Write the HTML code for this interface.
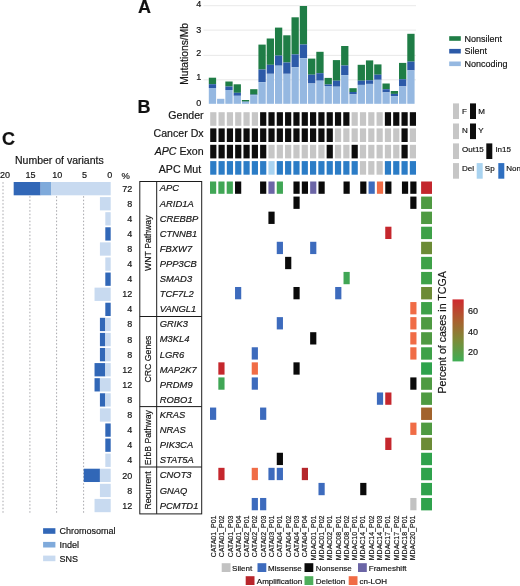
<!DOCTYPE html>
<html lang="en"><head><meta charset="utf-8"><title>Figure</title>
<style>html,body{margin:0;padding:0;background:#fff}body{width:520px;height:586px;overflow:hidden}svg{display:block}text{font-family:"Liberation Sans",sans-serif}</style>
</head><body>
<svg width="520" height="586" viewBox="0 0 520 586">
<rect x="0" y="0" width="520" height="586" fill="#ffffff"/>
<defs><linearGradient id="cb" x1="0" y1="0" x2="0" y2="1"><stop offset="0" stop-color="#cf2a2f"/><stop offset="0.35" stop-color="#a9612f"/><stop offset="0.65" stop-color="#7e8a38"/><stop offset="1" stop-color="#3fae55"/></linearGradient></defs>
<line x1="3.00" y1="182.20" x2="3.00" y2="513.30" stroke="#8f8f95" stroke-width="0.8" stroke-dasharray="1.5 2"/>
<line x1="29.90" y1="182.20" x2="29.90" y2="513.30" stroke="#8f8f95" stroke-width="0.8" stroke-dasharray="1.5 2"/>
<line x1="56.60" y1="182.20" x2="56.60" y2="513.30" stroke="#8f8f95" stroke-width="0.8" stroke-dasharray="1.5 2"/>
<line x1="83.60" y1="182.20" x2="83.60" y2="513.30" stroke="#8f8f95" stroke-width="0.8" stroke-dasharray="1.5 2"/>
<line x1="203.50" y1="5.70" x2="416.00" y2="5.70" stroke="#e2e2e2" stroke-width="0.8" />
<line x1="203.50" y1="30.10" x2="416.00" y2="30.10" stroke="#e2e2e2" stroke-width="0.8" />
<line x1="203.50" y1="55.40" x2="416.00" y2="55.40" stroke="#e2e2e2" stroke-width="0.8" />
<line x1="203.50" y1="79.80" x2="416.00" y2="79.80" stroke="#e2e2e2" stroke-width="0.8" />
<rect x="208.80" y="77.70" width="7.30" height="6.50" fill="#1f7d46" />
<rect x="208.80" y="84.20" width="7.30" height="3.80" fill="#2c5aa8" />
<rect x="208.80" y="88.00" width="7.30" height="15.80" fill="#95b8e1" />
<rect x="217.07" y="98.80" width="7.30" height="5.00" fill="#95b8e1" />
<rect x="225.34" y="81.50" width="7.30" height="5.00" fill="#1f7d46" />
<rect x="225.34" y="86.50" width="7.30" height="3.50" fill="#2c5aa8" />
<rect x="225.34" y="90.00" width="7.30" height="13.80" fill="#95b8e1" />
<rect x="233.61" y="84.30" width="7.30" height="8.50" fill="#1f7d46" />
<rect x="233.61" y="92.80" width="7.30" height="3.00" fill="#2c5aa8" />
<rect x="233.61" y="95.80" width="7.30" height="8.00" fill="#95b8e1" />
<rect x="241.88" y="100.00" width="7.30" height="1.60" fill="#1f7d46" />
<rect x="241.88" y="101.60" width="7.30" height="0.20" fill="#2c5aa8" />
<rect x="241.88" y="101.80" width="7.30" height="2.00" fill="#95b8e1" />
<rect x="250.15" y="89.20" width="7.30" height="5.40" fill="#1f7d46" />
<rect x="250.15" y="94.60" width="7.30" height="0.60" fill="#2c5aa8" />
<rect x="250.15" y="95.20" width="7.30" height="8.60" fill="#95b8e1" />
<rect x="258.42" y="44.60" width="7.30" height="24.90" fill="#1f7d46" />
<rect x="258.42" y="69.50" width="7.30" height="12.70" fill="#2c5aa8" />
<rect x="258.42" y="82.20" width="7.30" height="21.60" fill="#95b8e1" />
<rect x="266.69" y="38.50" width="7.30" height="26.30" fill="#1f7d46" />
<rect x="266.69" y="64.80" width="7.30" height="9.00" fill="#2c5aa8" />
<rect x="266.69" y="73.80" width="7.30" height="30.00" fill="#95b8e1" />
<rect x="274.96" y="27.60" width="7.30" height="28.00" fill="#1f7d46" />
<rect x="274.96" y="55.60" width="7.30" height="10.10" fill="#2c5aa8" />
<rect x="274.96" y="65.70" width="7.30" height="38.10" fill="#95b8e1" />
<rect x="283.23" y="35.30" width="7.30" height="27.20" fill="#1f7d46" />
<rect x="283.23" y="62.50" width="7.30" height="11.30" fill="#2c5aa8" />
<rect x="283.23" y="73.80" width="7.30" height="30.00" fill="#95b8e1" />
<rect x="291.50" y="17.30" width="7.30" height="37.10" fill="#1f7d46" />
<rect x="291.50" y="54.40" width="7.30" height="12.80" fill="#2c5aa8" />
<rect x="291.50" y="67.20" width="7.30" height="36.60" fill="#95b8e1" />
<rect x="299.77" y="6.00" width="7.30" height="38.50" fill="#1f7d46" />
<rect x="299.77" y="44.50" width="7.30" height="13.70" fill="#2c5aa8" />
<rect x="299.77" y="58.20" width="7.30" height="45.60" fill="#95b8e1" />
<rect x="308.04" y="58.60" width="7.30" height="16.10" fill="#1f7d46" />
<rect x="308.04" y="74.70" width="7.30" height="8.80" fill="#2c5aa8" />
<rect x="308.04" y="83.50" width="7.30" height="20.30" fill="#95b8e1" />
<rect x="316.31" y="51.80" width="7.30" height="21.40" fill="#1f7d46" />
<rect x="316.31" y="73.20" width="7.30" height="7.50" fill="#2c5aa8" />
<rect x="316.31" y="80.70" width="7.30" height="23.10" fill="#95b8e1" />
<rect x="324.58" y="77.90" width="7.30" height="6.60" fill="#1f7d46" />
<rect x="324.58" y="84.50" width="7.30" height="1.50" fill="#2c5aa8" />
<rect x="324.58" y="86.00" width="7.30" height="17.80" fill="#95b8e1" />
<rect x="332.85" y="60.10" width="7.30" height="20.60" fill="#1f7d46" />
<rect x="332.85" y="80.70" width="7.30" height="6.00" fill="#2c5aa8" />
<rect x="332.85" y="86.70" width="7.30" height="17.10" fill="#95b8e1" />
<rect x="341.12" y="46.00" width="7.30" height="19.50" fill="#1f7d46" />
<rect x="341.12" y="65.50" width="7.30" height="9.60" fill="#2c5aa8" />
<rect x="341.12" y="75.10" width="7.30" height="28.70" fill="#95b8e1" />
<rect x="349.39" y="88.20" width="7.30" height="3.80" fill="#1f7d46" />
<rect x="349.39" y="92.00" width="7.30" height="2.40" fill="#2c5aa8" />
<rect x="349.39" y="94.40" width="7.30" height="9.40" fill="#95b8e1" />
<rect x="357.66" y="64.80" width="7.30" height="15.90" fill="#1f7d46" />
<rect x="357.66" y="80.70" width="7.30" height="4.20" fill="#2c5aa8" />
<rect x="357.66" y="84.90" width="7.30" height="18.90" fill="#95b8e1" />
<rect x="365.93" y="60.40" width="7.30" height="19.90" fill="#1f7d46" />
<rect x="365.93" y="80.30" width="7.30" height="3.60" fill="#2c5aa8" />
<rect x="365.93" y="83.90" width="7.30" height="19.90" fill="#95b8e1" />
<rect x="374.20" y="64.40" width="7.30" height="10.30" fill="#1f7d46" />
<rect x="374.20" y="74.70" width="7.30" height="5.10" fill="#2c5aa8" />
<rect x="374.20" y="79.80" width="7.30" height="24.00" fill="#95b8e1" />
<rect x="382.47" y="83.50" width="7.30" height="5.70" fill="#1f7d46" />
<rect x="382.47" y="89.20" width="7.30" height="3.20" fill="#2c5aa8" />
<rect x="382.47" y="92.40" width="7.30" height="11.40" fill="#95b8e1" />
<rect x="390.74" y="91.00" width="7.30" height="2.90" fill="#1f7d46" />
<rect x="390.74" y="93.90" width="7.30" height="2.20" fill="#2c5aa8" />
<rect x="390.74" y="96.10" width="7.30" height="7.70" fill="#95b8e1" />
<rect x="399.01" y="62.90" width="7.30" height="16.30" fill="#1f7d46" />
<rect x="399.01" y="79.20" width="7.30" height="7.20" fill="#2c5aa8" />
<rect x="399.01" y="86.40" width="7.30" height="17.40" fill="#95b8e1" />
<rect x="407.28" y="33.80" width="7.30" height="27.80" fill="#1f7d46" />
<rect x="407.28" y="61.60" width="7.30" height="8.80" fill="#2c5aa8" />
<rect x="407.28" y="70.40" width="7.30" height="33.40" fill="#95b8e1" />
<text x="198.80" y="7.10" font-size="9" text-anchor="middle" font-weight="normal" font-style="normal" fill="#141414" stroke="#141414" stroke-width="0.18">4</text>
<text x="198.80" y="32.60" font-size="9" text-anchor="middle" font-weight="normal" font-style="normal" fill="#141414" stroke="#141414" stroke-width="0.18">3</text>
<text x="198.80" y="56.00" font-size="9" text-anchor="middle" font-weight="normal" font-style="normal" fill="#141414" stroke="#141414" stroke-width="0.18">2</text>
<text x="198.80" y="80.40" font-size="9" text-anchor="middle" font-weight="normal" font-style="normal" fill="#141414" stroke="#141414" stroke-width="0.18">1</text>
<text x="198.80" y="105.70" font-size="9" text-anchor="middle" font-weight="normal" font-style="normal" fill="#141414" stroke="#141414" stroke-width="0.18">0</text>
<text x="188.00" y="53.90" font-size="10.3" text-anchor="middle" font-weight="normal" font-style="normal" fill="#141414" transform="rotate(-90 188.00 53.90)" stroke="#141414" stroke-width="0.18">Mutations/Mb</text>
<text x="138.00" y="12.80" font-size="18" text-anchor="start" font-weight="bold" font-style="normal" fill="#111" stroke="#141414" stroke-width="0.18">A</text>
<text x="137.50" y="113.10" font-size="18" text-anchor="start" font-weight="bold" font-style="normal" fill="#111" stroke="#141414" stroke-width="0.18">B</text>
<text x="2.10" y="145.40" font-size="18" text-anchor="start" font-weight="bold" font-style="normal" fill="#111" stroke="#141414" stroke-width="0.18">C</text>
<rect x="449.20" y="36.20" width="11.60" height="4.60" fill="#1f7d46" />
<text x="464.60" y="41.70" font-size="9" text-anchor="start" font-weight="normal" font-style="normal" fill="#141414" stroke="#141414" stroke-width="0.18">Nonsilent</text>
<rect x="449.20" y="48.90" width="11.60" height="4.60" fill="#2c5aa8" />
<text x="464.60" y="54.40" font-size="9" text-anchor="start" font-weight="normal" font-style="normal" fill="#141414" stroke="#141414" stroke-width="0.18">Silent</text>
<rect x="449.20" y="61.50" width="11.60" height="4.60" fill="#95b8e1" />
<text x="464.60" y="67.00" font-size="9" text-anchor="start" font-weight="normal" font-style="normal" fill="#141414" stroke="#141414" stroke-width="0.18">Noncoding</text>
<rect x="210.20" y="112.20" width="6.20" height="13.60" fill="#c6c6c6" />
<rect x="218.52" y="112.20" width="6.20" height="13.60" fill="#c6c6c6" />
<rect x="226.83" y="112.20" width="6.20" height="13.60" fill="#c6c6c6" />
<rect x="235.15" y="112.20" width="6.20" height="13.60" fill="#c6c6c6" />
<rect x="243.47" y="112.20" width="6.20" height="13.60" fill="#c6c6c6" />
<rect x="251.78" y="112.20" width="6.20" height="13.60" fill="#c6c6c6" />
<rect x="260.10" y="112.20" width="6.20" height="13.60" fill="#0d0d0d" />
<rect x="268.42" y="112.20" width="6.20" height="13.60" fill="#0d0d0d" />
<rect x="276.74" y="112.20" width="6.20" height="13.60" fill="#0d0d0d" />
<rect x="285.05" y="112.20" width="6.20" height="13.60" fill="#0d0d0d" />
<rect x="293.37" y="112.20" width="6.20" height="13.60" fill="#0d0d0d" />
<rect x="301.69" y="112.20" width="6.20" height="13.60" fill="#0d0d0d" />
<rect x="310.00" y="112.20" width="6.20" height="13.60" fill="#0d0d0d" />
<rect x="318.32" y="112.20" width="6.20" height="13.60" fill="#0d0d0d" />
<rect x="326.64" y="112.20" width="6.20" height="13.60" fill="#0d0d0d" />
<rect x="334.95" y="112.20" width="6.20" height="13.60" fill="#0d0d0d" />
<rect x="343.27" y="112.20" width="6.20" height="13.60" fill="#0d0d0d" />
<rect x="351.59" y="112.20" width="6.20" height="13.60" fill="#c6c6c6" />
<rect x="359.91" y="112.20" width="6.20" height="13.60" fill="#c6c6c6" />
<rect x="368.22" y="112.20" width="6.20" height="13.60" fill="#c6c6c6" />
<rect x="376.54" y="112.20" width="6.20" height="13.60" fill="#c6c6c6" />
<rect x="384.86" y="112.20" width="6.20" height="13.60" fill="#0d0d0d" />
<rect x="393.17" y="112.20" width="6.20" height="13.60" fill="#0d0d0d" />
<rect x="401.49" y="112.20" width="6.20" height="13.60" fill="#0d0d0d" />
<rect x="409.81" y="112.20" width="6.20" height="13.60" fill="#0d0d0d" />
<rect x="210.20" y="128.40" width="6.20" height="13.60" fill="#0d0d0d" />
<rect x="218.52" y="128.40" width="6.20" height="13.60" fill="#0d0d0d" />
<rect x="226.83" y="128.40" width="6.20" height="13.60" fill="#0d0d0d" />
<rect x="235.15" y="128.40" width="6.20" height="13.60" fill="#0d0d0d" />
<rect x="243.47" y="128.40" width="6.20" height="13.60" fill="#0d0d0d" />
<rect x="251.78" y="128.40" width="6.20" height="13.60" fill="#0d0d0d" />
<rect x="260.10" y="128.40" width="6.20" height="13.60" fill="#0d0d0d" />
<rect x="268.42" y="128.40" width="6.20" height="13.60" fill="#0d0d0d" />
<rect x="276.74" y="128.40" width="6.20" height="13.60" fill="#0d0d0d" />
<rect x="285.05" y="128.40" width="6.20" height="13.60" fill="#0d0d0d" />
<rect x="293.37" y="128.40" width="6.20" height="13.60" fill="#0d0d0d" />
<rect x="301.69" y="128.40" width="6.20" height="13.60" fill="#0d0d0d" />
<rect x="310.00" y="128.40" width="6.20" height="13.60" fill="#0d0d0d" />
<rect x="318.32" y="128.40" width="6.20" height="13.60" fill="#0d0d0d" />
<rect x="326.64" y="128.40" width="6.20" height="13.60" fill="#0d0d0d" />
<rect x="334.95" y="128.40" width="6.20" height="13.60" fill="#c6c6c6" />
<rect x="343.27" y="128.40" width="6.20" height="13.60" fill="#c6c6c6" />
<rect x="351.59" y="128.40" width="6.20" height="13.60" fill="#c6c6c6" />
<rect x="359.91" y="128.40" width="6.20" height="13.60" fill="#c6c6c6" />
<rect x="368.22" y="128.40" width="6.20" height="13.60" fill="#c6c6c6" />
<rect x="376.54" y="128.40" width="6.20" height="13.60" fill="#c6c6c6" />
<rect x="384.86" y="128.40" width="6.20" height="13.60" fill="#c6c6c6" />
<rect x="393.17" y="128.40" width="6.20" height="13.60" fill="#c6c6c6" />
<rect x="401.49" y="128.40" width="6.20" height="13.60" fill="#0d0d0d" />
<rect x="409.81" y="128.40" width="6.20" height="13.60" fill="#c6c6c6" />
<rect x="210.20" y="144.80" width="6.20" height="13.60" fill="#0d0d0d" />
<rect x="218.52" y="144.80" width="6.20" height="13.60" fill="#0d0d0d" />
<rect x="226.83" y="144.80" width="6.20" height="13.60" fill="#0d0d0d" />
<rect x="235.15" y="144.80" width="6.20" height="13.60" fill="#0d0d0d" />
<rect x="243.47" y="144.80" width="6.20" height="13.60" fill="#0d0d0d" />
<rect x="251.78" y="144.80" width="6.20" height="13.60" fill="#0d0d0d" />
<rect x="260.10" y="144.80" width="6.20" height="13.60" fill="#0d0d0d" />
<rect x="268.42" y="144.80" width="6.20" height="13.60" fill="#c6c6c6" />
<rect x="276.74" y="144.80" width="6.20" height="13.60" fill="#c6c6c6" />
<rect x="285.05" y="144.80" width="6.20" height="13.60" fill="#c6c6c6" />
<rect x="293.37" y="144.80" width="6.20" height="13.60" fill="#c6c6c6" />
<rect x="301.69" y="144.80" width="6.20" height="13.60" fill="#c6c6c6" />
<rect x="310.00" y="144.80" width="6.20" height="13.60" fill="#c6c6c6" />
<rect x="318.32" y="144.80" width="6.20" height="13.60" fill="#c6c6c6" />
<rect x="326.64" y="144.80" width="6.20" height="13.60" fill="#0d0d0d" />
<rect x="334.95" y="144.80" width="6.20" height="13.60" fill="#c6c6c6" />
<rect x="343.27" y="144.80" width="6.20" height="13.60" fill="#c6c6c6" />
<rect x="351.59" y="144.80" width="6.20" height="13.60" fill="#0d0d0d" />
<rect x="359.91" y="144.80" width="6.20" height="13.60" fill="#c6c6c6" />
<rect x="368.22" y="144.80" width="6.20" height="13.60" fill="#c6c6c6" />
<rect x="376.54" y="144.80" width="6.20" height="13.60" fill="#c6c6c6" />
<rect x="384.86" y="144.80" width="6.20" height="13.60" fill="#c6c6c6" />
<rect x="393.17" y="144.80" width="6.20" height="13.60" fill="#c6c6c6" />
<rect x="401.49" y="144.80" width="6.20" height="13.60" fill="#0d0d0d" />
<rect x="409.81" y="144.80" width="6.20" height="13.60" fill="#c6c6c6" />
<rect x="210.20" y="161.10" width="6.20" height="13.60" fill="#2b7cc6" />
<rect x="218.52" y="161.10" width="6.20" height="13.60" fill="#2b7cc6" />
<rect x="226.83" y="161.10" width="6.20" height="13.60" fill="#2b7cc6" />
<rect x="235.15" y="161.10" width="6.20" height="13.60" fill="#2b7cc6" />
<rect x="243.47" y="161.10" width="6.20" height="13.60" fill="#2b7cc6" />
<rect x="251.78" y="161.10" width="6.20" height="13.60" fill="#2b7cc6" />
<rect x="260.10" y="161.10" width="6.20" height="13.60" fill="#2b7cc6" />
<rect x="268.42" y="161.10" width="6.20" height="13.60" fill="#a9d3f0" />
<rect x="276.74" y="161.10" width="6.20" height="13.60" fill="#2b7cc6" />
<rect x="285.05" y="161.10" width="6.20" height="13.60" fill="#2b7cc6" />
<rect x="293.37" y="161.10" width="6.20" height="13.60" fill="#2b7cc6" />
<rect x="301.69" y="161.10" width="6.20" height="13.60" fill="#2b7cc6" />
<rect x="310.00" y="161.10" width="6.20" height="13.60" fill="#2b7cc6" />
<rect x="318.32" y="161.10" width="6.20" height="13.60" fill="#2b7cc6" />
<rect x="326.64" y="161.10" width="6.20" height="13.60" fill="#2b7cc6" />
<rect x="334.95" y="161.10" width="6.20" height="13.60" fill="#2b7cc6" />
<rect x="343.27" y="161.10" width="6.20" height="13.60" fill="#2b7cc6" />
<rect x="351.59" y="161.10" width="6.20" height="13.60" fill="#2b7cc6" />
<rect x="359.91" y="161.10" width="6.20" height="13.60" fill="#c6c6c6" />
<rect x="368.22" y="161.10" width="6.20" height="13.60" fill="#c6c6c6" />
<rect x="376.54" y="161.10" width="6.20" height="13.60" fill="#c6c6c6" />
<rect x="384.86" y="161.10" width="6.20" height="13.60" fill="#2b7cc6" />
<rect x="393.17" y="161.10" width="6.20" height="13.60" fill="#2b7cc6" />
<rect x="401.49" y="161.10" width="6.20" height="13.60" fill="#2b7cc6" />
<rect x="409.81" y="161.10" width="6.20" height="13.60" fill="#2b7cc6" />
<text x="203.60" y="118.60" font-size="10.6" text-anchor="end" font-weight="normal" font-style="normal" fill="#141414" stroke="#141414" stroke-width="0.18">Gender</text>
<text x="203.60" y="136.70" font-size="10.6" text-anchor="end" font-weight="normal" font-style="normal" fill="#141414" stroke="#141414" stroke-width="0.18">Cancer Dx</text>
<text x="203.6" y="155.0" font-size="10.6" text-anchor="end" fill="#141414" stroke="#141414" stroke-width="0.18"><tspan font-style="italic">APC</tspan> Exon</text>
<text x="201.20" y="173.40" font-size="10.6" text-anchor="end" font-weight="normal" font-style="normal" fill="#141414" stroke="#141414" stroke-width="0.18">APC Mut</text>
<rect x="453.00" y="103.40" width="6.00" height="15.60" fill="#c6c6c6" />
<text x="462.00" y="113.60" font-size="8" text-anchor="start" font-weight="normal" font-style="normal" fill="#141414" stroke="#141414" stroke-width="0.18">F</text>
<rect x="470.00" y="103.40" width="6.00" height="15.60" fill="#0d0d0d" />
<text x="478.30" y="113.60" font-size="8" text-anchor="start" font-weight="normal" font-style="normal" fill="#141414" stroke="#141414" stroke-width="0.18">M</text>
<rect x="453.00" y="123.50" width="6.00" height="15.60" fill="#c6c6c6" />
<text x="462.00" y="133.40" font-size="8" text-anchor="start" font-weight="normal" font-style="normal" fill="#141414" stroke="#141414" stroke-width="0.18">N</text>
<rect x="470.00" y="123.50" width="6.00" height="15.60" fill="#0d0d0d" />
<text x="478.30" y="133.40" font-size="8" text-anchor="start" font-weight="normal" font-style="normal" fill="#141414" stroke="#141414" stroke-width="0.18">Y</text>
<rect x="453.00" y="143.40" width="6.00" height="15.60" fill="#c6c6c6" />
<text x="462.00" y="152.00" font-size="8" text-anchor="start" font-weight="normal" font-style="normal" fill="#141414" stroke="#141414" stroke-width="0.18">Out15</text>
<rect x="486.30" y="143.40" width="6.00" height="15.60" fill="#0d0d0d" />
<text x="495.40" y="152.00" font-size="8" text-anchor="start" font-weight="normal" font-style="normal" fill="#141414" stroke="#141414" stroke-width="0.18">In15</text>
<rect x="453.00" y="163.10" width="6.00" height="15.60" fill="#c6c6c6" />
<text x="462.00" y="171.20" font-size="8" text-anchor="start" font-weight="normal" font-style="normal" fill="#141414" stroke="#141414" stroke-width="0.18">Del</text>
<rect x="476.70" y="163.10" width="6.00" height="15.60" fill="#a9d3f0" />
<text x="484.80" y="171.20" font-size="8" text-anchor="start" font-weight="normal" font-style="normal" fill="#141414" stroke="#141414" stroke-width="0.18">Sp</text>
<rect x="498.30" y="163.10" width="6.00" height="15.60" fill="#2f6fc0" />
<text x="506.20" y="171.20" font-size="8" text-anchor="start" font-weight="normal" font-style="normal" fill="#141414" stroke="#141414" stroke-width="0.18">Non</text>
<rect x="210.00" y="181.50" width="6.20" height="12.30" fill="#40a655" />
<rect x="218.34" y="181.50" width="6.20" height="12.30" fill="#40a655" />
<rect x="226.69" y="181.50" width="6.20" height="12.30" fill="#40a655" />
<rect x="235.03" y="181.50" width="6.20" height="12.30" fill="#0a0a0a" />
<rect x="260.07" y="181.50" width="6.20" height="12.30" fill="#0a0a0a" />
<rect x="268.42" y="181.50" width="6.20" height="12.30" fill="#6b65a6" />
<rect x="276.76" y="181.50" width="6.20" height="12.30" fill="#40a655" />
<rect x="293.45" y="181.50" width="6.20" height="12.30" fill="#0a0a0a" />
<rect x="301.80" y="181.50" width="6.20" height="12.30" fill="#0a0a0a" />
<rect x="310.14" y="181.50" width="6.20" height="12.30" fill="#6b65a6" />
<rect x="318.49" y="181.50" width="6.20" height="12.30" fill="#0a0a0a" />
<rect x="343.52" y="181.50" width="6.20" height="12.30" fill="#0a0a0a" />
<rect x="360.21" y="181.50" width="6.20" height="12.30" fill="#0a0a0a" />
<rect x="368.56" y="181.50" width="6.20" height="12.30" fill="#3d6bbd" />
<rect x="376.90" y="181.50" width="6.20" height="12.30" fill="#f06c46" />
<rect x="385.25" y="181.50" width="6.20" height="12.30" fill="#0a0a0a" />
<rect x="401.94" y="181.50" width="6.20" height="12.30" fill="#0a0a0a" />
<rect x="410.28" y="181.50" width="6.20" height="12.30" fill="#0a0a0a" />
<rect x="293.45" y="196.57" width="6.20" height="12.30" fill="#0a0a0a" />
<rect x="410.28" y="196.57" width="6.20" height="12.30" fill="#0a0a0a" />
<rect x="268.42" y="211.64" width="6.20" height="12.30" fill="#0a0a0a" />
<rect x="385.25" y="226.71" width="6.20" height="12.30" fill="#c5272d" />
<rect x="276.76" y="241.78" width="6.20" height="12.30" fill="#3d6bbd" />
<rect x="310.14" y="241.78" width="6.20" height="12.30" fill="#3d6bbd" />
<rect x="285.11" y="256.85" width="6.20" height="12.30" fill="#0a0a0a" />
<rect x="343.52" y="271.92" width="6.20" height="12.30" fill="#40a655" />
<rect x="235.03" y="286.99" width="6.20" height="12.30" fill="#3d6bbd" />
<rect x="293.45" y="286.99" width="6.20" height="12.30" fill="#0a0a0a" />
<rect x="335.18" y="286.99" width="6.20" height="12.30" fill="#3d6bbd" />
<rect x="410.28" y="302.06" width="6.20" height="12.30" fill="#f06c46" />
<rect x="276.76" y="317.13" width="6.20" height="12.30" fill="#3d6bbd" />
<rect x="410.28" y="317.13" width="6.20" height="12.30" fill="#f06c46" />
<rect x="310.14" y="332.20" width="6.20" height="12.30" fill="#0a0a0a" />
<rect x="410.28" y="332.20" width="6.20" height="12.30" fill="#f06c46" />
<rect x="251.72" y="347.27" width="6.20" height="12.30" fill="#3d6bbd" />
<rect x="410.28" y="347.27" width="6.20" height="12.30" fill="#f06c46" />
<rect x="218.34" y="362.34" width="6.20" height="12.30" fill="#c5272d" />
<rect x="251.72" y="362.34" width="6.20" height="12.30" fill="#f06c46" />
<rect x="293.45" y="362.34" width="6.20" height="12.30" fill="#0a0a0a" />
<rect x="218.34" y="377.41" width="6.20" height="12.30" fill="#40a655" />
<rect x="251.72" y="377.41" width="6.20" height="12.30" fill="#3d6bbd" />
<rect x="410.28" y="377.41" width="6.20" height="12.30" fill="#0a0a0a" />
<rect x="376.90" y="392.48" width="6.20" height="12.30" fill="#3d6bbd" />
<rect x="385.25" y="392.48" width="6.20" height="12.30" fill="#c5272d" />
<rect x="210.00" y="407.55" width="6.20" height="12.30" fill="#3d6bbd" />
<rect x="260.07" y="407.55" width="6.20" height="12.30" fill="#3d6bbd" />
<rect x="410.28" y="422.62" width="6.20" height="12.30" fill="#f06c46" />
<rect x="385.25" y="437.69" width="6.20" height="12.30" fill="#c5272d" />
<rect x="276.76" y="452.76" width="6.20" height="12.30" fill="#0a0a0a" />
<rect x="218.34" y="467.83" width="6.20" height="12.30" fill="#c5272d" />
<rect x="251.72" y="467.83" width="6.20" height="12.30" fill="#f06c46" />
<rect x="268.42" y="467.83" width="6.20" height="12.30" fill="#3d6bbd" />
<rect x="276.76" y="467.83" width="6.20" height="12.30" fill="#3d6bbd" />
<rect x="301.80" y="467.83" width="6.20" height="12.30" fill="#b5262b" />
<rect x="318.49" y="482.90" width="6.20" height="12.30" fill="#3d6bbd" />
<rect x="360.21" y="482.90" width="6.20" height="12.30" fill="#0a0a0a" />
<rect x="251.72" y="497.97" width="6.20" height="12.30" fill="#3d6bbd" />
<rect x="260.07" y="497.97" width="6.20" height="12.30" fill="#3d6bbd" />
<rect x="410.28" y="497.97" width="6.20" height="12.30" fill="#c2c2c2" />
<rect x="421.10" y="181.50" width="10.90" height="12.40" fill="#c3272d" />
<rect x="421.10" y="196.57" width="10.90" height="12.40" fill="#4f9a42" />
<rect x="421.10" y="211.64" width="10.90" height="12.40" fill="#4f9a42" />
<rect x="421.10" y="226.71" width="10.90" height="12.40" fill="#3ea148" />
<rect x="421.10" y="241.78" width="10.90" height="12.40" fill="#6c8b36" />
<rect x="421.10" y="256.85" width="10.90" height="12.40" fill="#3ea148" />
<rect x="421.10" y="271.92" width="10.90" height="12.40" fill="#3ea148" />
<rect x="421.10" y="286.99" width="10.90" height="12.40" fill="#6c8b36" />
<rect x="421.10" y="302.06" width="10.90" height="12.40" fill="#3ea148" />
<rect x="421.10" y="317.13" width="10.90" height="12.40" fill="#4f9a42" />
<rect x="421.10" y="332.20" width="10.90" height="12.40" fill="#4f9a42" />
<rect x="421.10" y="347.27" width="10.90" height="12.40" fill="#3ea148" />
<rect x="421.10" y="362.34" width="10.90" height="12.40" fill="#2fa24c" />
<rect x="421.10" y="377.41" width="10.90" height="12.40" fill="#4f9a42" />
<rect x="421.10" y="392.48" width="10.90" height="12.40" fill="#4f9a42" />
<rect x="421.10" y="407.55" width="10.90" height="12.40" fill="#a2632d" />
<rect x="421.10" y="422.62" width="10.90" height="12.40" fill="#4f9a42" />
<rect x="421.10" y="437.69" width="10.90" height="12.40" fill="#6c8b36" />
<rect x="421.10" y="452.76" width="10.90" height="12.40" fill="#2fa24c" />
<rect x="421.10" y="467.83" width="10.90" height="12.40" fill="#2fa24c" />
<rect x="421.10" y="482.90" width="10.90" height="12.40" fill="#2fa24c" />
<rect x="421.10" y="497.97" width="10.90" height="12.40" fill="#2fa24c" />
<g fill="none" stroke="#1c1c1c" stroke-width="1">
<rect x="139.8" y="181.5" width="61.9" height="332.4"/>
<line x1="156.7" y1="181.5" x2="156.7" y2="513.9"/>
<line x1="139.8" y1="316.5" x2="201.7" y2="316.5"/>
<line x1="139.8" y1="406.6" x2="201.7" y2="406.6"/>
<line x1="139.8" y1="467.0" x2="201.7" y2="467.0"/>
</g>
<text x="159.80" y="191.40" font-size="9.4" text-anchor="start" font-weight="normal" font-style="italic" fill="#141414" stroke="#141414" stroke-width="0.18">APC</text>
<text x="132.20" y="191.50" font-size="9" text-anchor="end" font-weight="normal" font-style="normal" fill="#141414" stroke="#141414" stroke-width="0.18">72</text>
<rect x="13.68" y="182.00" width="26.95" height="13.30" fill="#3167b7" />
<rect x="40.63" y="182.00" width="10.78" height="13.30" fill="#7faadb" />
<rect x="51.41" y="182.00" width="59.29" height="13.30" fill="#c8daf0" />
<text x="159.80" y="206.50" font-size="9.4" text-anchor="start" font-weight="normal" font-style="italic" fill="#141414" stroke="#141414" stroke-width="0.18">ARID1A</text>
<text x="132.20" y="206.60" font-size="9" text-anchor="end" font-weight="normal" font-style="normal" fill="#141414" stroke="#141414" stroke-width="0.18">8</text>
<rect x="99.92" y="197.09" width="10.78" height="13.30" fill="#c8daf0" />
<text x="159.80" y="221.61" font-size="9.4" text-anchor="start" font-weight="normal" font-style="italic" fill="#141414" stroke="#141414" stroke-width="0.18">CREBBP</text>
<text x="132.20" y="221.71" font-size="9" text-anchor="end" font-weight="normal" font-style="normal" fill="#141414" stroke="#141414" stroke-width="0.18">4</text>
<rect x="105.31" y="212.18" width="5.39" height="13.30" fill="#c8daf0" />
<text x="159.80" y="236.72" font-size="9.4" text-anchor="start" font-weight="normal" font-style="italic" fill="#141414" stroke="#141414" stroke-width="0.18">CTNNB1</text>
<text x="132.20" y="236.81" font-size="9" text-anchor="end" font-weight="normal" font-style="normal" fill="#141414" stroke="#141414" stroke-width="0.18">4</text>
<rect x="105.31" y="227.27" width="5.39" height="13.30" fill="#3167b7" />
<text x="159.80" y="251.82" font-size="9.4" text-anchor="start" font-weight="normal" font-style="italic" fill="#141414" stroke="#141414" stroke-width="0.18">FBXW7</text>
<text x="132.20" y="251.92" font-size="9" text-anchor="end" font-weight="normal" font-style="normal" fill="#141414" stroke="#141414" stroke-width="0.18">8</text>
<rect x="99.92" y="242.36" width="10.78" height="13.30" fill="#c8daf0" />
<text x="159.80" y="266.93" font-size="9.4" text-anchor="start" font-weight="normal" font-style="italic" fill="#141414" stroke="#141414" stroke-width="0.18">PPP3CB</text>
<text x="132.20" y="267.03" font-size="9" text-anchor="end" font-weight="normal" font-style="normal" fill="#141414" stroke="#141414" stroke-width="0.18">4</text>
<rect x="105.31" y="257.45" width="5.39" height="13.30" fill="#c8daf0" />
<text x="159.80" y="282.03" font-size="9.4" text-anchor="start" font-weight="normal" font-style="italic" fill="#141414" stroke="#141414" stroke-width="0.18">SMAD3</text>
<text x="132.20" y="282.13" font-size="9" text-anchor="end" font-weight="normal" font-style="normal" fill="#141414" stroke="#141414" stroke-width="0.18">4</text>
<rect x="105.31" y="272.54" width="5.39" height="13.30" fill="#3167b7" />
<text x="159.80" y="297.13" font-size="9.4" text-anchor="start" font-weight="normal" font-style="italic" fill="#141414" stroke="#141414" stroke-width="0.18">TCF7L2</text>
<text x="132.20" y="297.24" font-size="9" text-anchor="end" font-weight="normal" font-style="normal" fill="#141414" stroke="#141414" stroke-width="0.18">12</text>
<rect x="94.53" y="287.63" width="16.17" height="13.30" fill="#c8daf0" />
<text x="159.80" y="312.24" font-size="9.4" text-anchor="start" font-weight="normal" font-style="italic" fill="#141414" stroke="#141414" stroke-width="0.18">VANGL1</text>
<text x="132.20" y="312.34" font-size="9" text-anchor="end" font-weight="normal" font-style="normal" fill="#141414" stroke="#141414" stroke-width="0.18">4</text>
<rect x="105.31" y="302.72" width="5.39" height="13.30" fill="#3167b7" />
<text x="159.80" y="327.35" font-size="9.4" text-anchor="start" font-weight="normal" font-style="italic" fill="#141414" stroke="#141414" stroke-width="0.18">GRIK3</text>
<text x="132.20" y="327.45" font-size="9" text-anchor="end" font-weight="normal" font-style="normal" fill="#141414" stroke="#141414" stroke-width="0.18">8</text>
<rect x="99.92" y="317.81" width="5.39" height="13.30" fill="#3167b7" />
<rect x="105.31" y="317.81" width="5.39" height="13.30" fill="#c8daf0" />
<text x="159.80" y="342.45" font-size="9.4" text-anchor="start" font-weight="normal" font-style="italic" fill="#141414" stroke="#141414" stroke-width="0.18">M3KL4</text>
<text x="132.20" y="342.55" font-size="9" text-anchor="end" font-weight="normal" font-style="normal" fill="#141414" stroke="#141414" stroke-width="0.18">8</text>
<rect x="99.92" y="332.90" width="5.39" height="13.30" fill="#3167b7" />
<rect x="105.31" y="332.90" width="5.39" height="13.30" fill="#c8daf0" />
<text x="159.80" y="357.56" font-size="9.4" text-anchor="start" font-weight="normal" font-style="italic" fill="#141414" stroke="#141414" stroke-width="0.18">LGR6</text>
<text x="132.20" y="357.66" font-size="9" text-anchor="end" font-weight="normal" font-style="normal" fill="#141414" stroke="#141414" stroke-width="0.18">8</text>
<rect x="99.92" y="347.99" width="5.39" height="13.30" fill="#3167b7" />
<rect x="105.31" y="347.99" width="5.39" height="13.30" fill="#c8daf0" />
<text x="159.80" y="372.66" font-size="9.4" text-anchor="start" font-weight="normal" font-style="italic" fill="#141414" stroke="#141414" stroke-width="0.18">MAP2K7</text>
<text x="132.20" y="372.76" font-size="9" text-anchor="end" font-weight="normal" font-style="normal" fill="#141414" stroke="#141414" stroke-width="0.18">12</text>
<rect x="94.53" y="363.08" width="10.78" height="13.30" fill="#3167b7" />
<rect x="105.31" y="363.08" width="5.39" height="13.30" fill="#c8daf0" />
<text x="159.80" y="387.76" font-size="9.4" text-anchor="start" font-weight="normal" font-style="italic" fill="#141414" stroke="#141414" stroke-width="0.18">PRDM9</text>
<text x="132.20" y="387.87" font-size="9" text-anchor="end" font-weight="normal" font-style="normal" fill="#141414" stroke="#141414" stroke-width="0.18">12</text>
<rect x="94.53" y="378.17" width="5.39" height="13.30" fill="#3167b7" />
<rect x="99.92" y="378.17" width="10.78" height="13.30" fill="#c8daf0" />
<text x="159.80" y="402.87" font-size="9.4" text-anchor="start" font-weight="normal" font-style="italic" fill="#141414" stroke="#141414" stroke-width="0.18">ROBO1</text>
<text x="132.20" y="402.97" font-size="9" text-anchor="end" font-weight="normal" font-style="normal" fill="#141414" stroke="#141414" stroke-width="0.18">8</text>
<rect x="99.92" y="393.26" width="5.39" height="13.30" fill="#3167b7" />
<rect x="105.31" y="393.26" width="5.39" height="13.30" fill="#c8daf0" />
<text x="159.80" y="417.98" font-size="9.4" text-anchor="start" font-weight="normal" font-style="italic" fill="#141414" stroke="#141414" stroke-width="0.18">KRAS</text>
<text x="132.20" y="418.08" font-size="9" text-anchor="end" font-weight="normal" font-style="normal" fill="#141414" stroke="#141414" stroke-width="0.18">8</text>
<rect x="99.92" y="408.35" width="10.78" height="13.30" fill="#c8daf0" />
<text x="159.80" y="433.08" font-size="9.4" text-anchor="start" font-weight="normal" font-style="italic" fill="#141414" stroke="#141414" stroke-width="0.18">NRAS</text>
<text x="132.20" y="433.18" font-size="9" text-anchor="end" font-weight="normal" font-style="normal" fill="#141414" stroke="#141414" stroke-width="0.18">4</text>
<rect x="105.31" y="423.44" width="5.39" height="13.30" fill="#3167b7" />
<text x="159.80" y="448.19" font-size="9.4" text-anchor="start" font-weight="normal" font-style="italic" fill="#141414" stroke="#141414" stroke-width="0.18">PIK3CA</text>
<text x="132.20" y="448.29" font-size="9" text-anchor="end" font-weight="normal" font-style="normal" fill="#141414" stroke="#141414" stroke-width="0.18">4</text>
<rect x="105.31" y="438.53" width="5.39" height="13.30" fill="#3167b7" />
<text x="159.80" y="463.29" font-size="9.4" text-anchor="start" font-weight="normal" font-style="italic" fill="#141414" stroke="#141414" stroke-width="0.18">STAT5A</text>
<text x="132.20" y="463.39" font-size="9" text-anchor="end" font-weight="normal" font-style="normal" fill="#141414" stroke="#141414" stroke-width="0.18">4</text>
<rect x="105.31" y="453.62" width="5.39" height="13.30" fill="#c8daf0" />
<text x="159.80" y="478.39" font-size="9.4" text-anchor="start" font-weight="normal" font-style="italic" fill="#141414" stroke="#141414" stroke-width="0.18">CNOT3</text>
<text x="132.20" y="478.50" font-size="9" text-anchor="end" font-weight="normal" font-style="normal" fill="#141414" stroke="#141414" stroke-width="0.18">20</text>
<rect x="83.75" y="468.71" width="16.17" height="13.30" fill="#3167b7" />
<rect x="99.92" y="468.71" width="10.78" height="13.30" fill="#c8daf0" />
<text x="159.80" y="493.50" font-size="9.4" text-anchor="start" font-weight="normal" font-style="italic" fill="#141414" stroke="#141414" stroke-width="0.18">GNAQ</text>
<text x="132.20" y="493.60" font-size="9" text-anchor="end" font-weight="normal" font-style="normal" fill="#141414" stroke="#141414" stroke-width="0.18">8</text>
<rect x="99.92" y="483.80" width="10.78" height="13.30" fill="#c8daf0" />
<text x="159.80" y="508.61" font-size="9.4" text-anchor="start" font-weight="normal" font-style="italic" fill="#141414" stroke="#141414" stroke-width="0.18">PCMTD1</text>
<text x="132.20" y="508.71" font-size="9" text-anchor="end" font-weight="normal" font-style="normal" fill="#141414" stroke="#141414" stroke-width="0.18">12</text>
<rect x="94.53" y="498.89" width="16.17" height="13.30" fill="#c8daf0" />
<text x="125.60" y="178.60" font-size="9.4" text-anchor="middle" font-weight="normal" font-style="normal" fill="#141414" stroke="#141414" stroke-width="0.18">%</text>
<text x="151.20" y="243.20" font-size="8.7" text-anchor="middle" font-weight="normal" font-style="normal" fill="#141414" transform="rotate(-90 151.20 243.20)" stroke="#141414" stroke-width="0.18">WNT Pathway</text>
<text x="151.20" y="359.00" font-size="8.7" text-anchor="middle" font-weight="normal" font-style="normal" fill="#141414" transform="rotate(-90 151.20 359.00)" stroke="#141414" stroke-width="0.18">CRC Genes</text>
<text x="151.20" y="437.70" font-size="8.7" text-anchor="middle" font-weight="normal" font-style="normal" fill="#141414" transform="rotate(-90 151.20 437.70)" stroke="#141414" stroke-width="0.18">ErbB Pathway</text>
<text x="151.20" y="490.50" font-size="8.7" text-anchor="middle" font-weight="normal" font-style="normal" fill="#141414" transform="rotate(-90 151.20 490.50)" stroke="#141414" stroke-width="0.18">Recurrent</text>
<text x="0.00" y="178.30" font-size="9" text-anchor="start" font-weight="normal" font-style="normal" fill="#141414" stroke="#141414" stroke-width="0.18">20</text>
<text x="30.40" y="178.30" font-size="9" text-anchor="middle" font-weight="normal" font-style="normal" fill="#141414" stroke="#141414" stroke-width="0.18">15</text>
<text x="57.30" y="178.30" font-size="9" text-anchor="middle" font-weight="normal" font-style="normal" fill="#141414" stroke="#141414" stroke-width="0.18">10</text>
<text x="84.60" y="178.30" font-size="9" text-anchor="middle" font-weight="normal" font-style="normal" fill="#141414" stroke="#141414" stroke-width="0.18">5</text>
<text x="109.80" y="178.30" font-size="9" text-anchor="middle" font-weight="normal" font-style="normal" fill="#141414" stroke="#141414" stroke-width="0.18">0</text>
<text x="15.00" y="163.60" font-size="10.5" text-anchor="start" font-weight="normal" font-style="normal" fill="#141414" stroke="#141414" stroke-width="0.18">Number of variants</text>
<rect x="43.10" y="528.20" width="12.30" height="5.60" fill="#3167b7" />
<text x="59.50" y="534.20" font-size="9" text-anchor="start" font-weight="normal" font-style="normal" fill="#141414" stroke="#141414" stroke-width="0.18">Chromosomal</text>
<rect x="43.10" y="541.90" width="12.30" height="5.60" fill="#7faadb" />
<text x="59.50" y="547.90" font-size="9" text-anchor="start" font-weight="normal" font-style="normal" fill="#141414" stroke="#141414" stroke-width="0.18">Indel</text>
<rect x="43.10" y="555.60" width="12.30" height="5.60" fill="#c8daf0" />
<text x="59.50" y="561.60" font-size="9" text-anchor="start" font-weight="normal" font-style="normal" fill="#141414" stroke="#141414" stroke-width="0.18">SNS</text>
<text x="215.90" y="515.50" font-size="7.0" text-anchor="end" font-weight="normal" font-style="normal" fill="#141414" transform="rotate(-90 215.90 515.50)" stroke="#141414" stroke-width="0.18">CATA01_P01</text>
<text x="224.21" y="515.50" font-size="7.0" text-anchor="end" font-weight="normal" font-style="normal" fill="#141414" transform="rotate(-90 224.21 515.50)" stroke="#141414" stroke-width="0.18">CATA01_P02</text>
<text x="232.52" y="515.50" font-size="7.0" text-anchor="end" font-weight="normal" font-style="normal" fill="#141414" transform="rotate(-90 232.52 515.50)" stroke="#141414" stroke-width="0.18">CATA01_P03</text>
<text x="240.83" y="515.50" font-size="7.0" text-anchor="end" font-weight="normal" font-style="normal" fill="#141414" transform="rotate(-90 240.83 515.50)" stroke="#141414" stroke-width="0.18">CATA01_P04</text>
<text x="249.14" y="515.50" font-size="7.0" text-anchor="end" font-weight="normal" font-style="normal" fill="#141414" transform="rotate(-90 249.14 515.50)" stroke="#141414" stroke-width="0.18">CATA02_P01</text>
<text x="257.45" y="515.50" font-size="7.0" text-anchor="end" font-weight="normal" font-style="normal" fill="#141414" transform="rotate(-90 257.45 515.50)" stroke="#141414" stroke-width="0.18">CATA02_P02</text>
<text x="265.76" y="515.50" font-size="7.0" text-anchor="end" font-weight="normal" font-style="normal" fill="#141414" transform="rotate(-90 265.76 515.50)" stroke="#141414" stroke-width="0.18">CATA02_P03</text>
<text x="274.07" y="515.50" font-size="7.0" text-anchor="end" font-weight="normal" font-style="normal" fill="#141414" transform="rotate(-90 274.07 515.50)" stroke="#141414" stroke-width="0.18">CATA03_P01</text>
<text x="282.38" y="515.50" font-size="7.0" text-anchor="end" font-weight="normal" font-style="normal" fill="#141414" transform="rotate(-90 282.38 515.50)" stroke="#141414" stroke-width="0.18">CATA04_P01</text>
<text x="290.69" y="515.50" font-size="7.0" text-anchor="end" font-weight="normal" font-style="normal" fill="#141414" transform="rotate(-90 290.69 515.50)" stroke="#141414" stroke-width="0.18">CATA04_P02</text>
<text x="299.00" y="515.50" font-size="7.0" text-anchor="end" font-weight="normal" font-style="normal" fill="#141414" transform="rotate(-90 299.00 515.50)" stroke="#141414" stroke-width="0.18">CATA04_P03</text>
<text x="307.31" y="515.50" font-size="7.0" text-anchor="end" font-weight="normal" font-style="normal" fill="#141414" transform="rotate(-90 307.31 515.50)" stroke="#141414" stroke-width="0.18">CATA04_P04</text>
<text x="315.62" y="515.50" font-size="7.0" text-anchor="end" font-weight="normal" font-style="normal" fill="#141414" transform="rotate(-90 315.62 515.50)" stroke="#141414" stroke-width="0.18">MDAC01_P01</text>
<text x="323.93" y="515.50" font-size="7.0" text-anchor="end" font-weight="normal" font-style="normal" fill="#141414" transform="rotate(-90 323.93 515.50)" stroke="#141414" stroke-width="0.18">MDAC01_P02</text>
<text x="332.24" y="515.50" font-size="7.0" text-anchor="end" font-weight="normal" font-style="normal" fill="#141414" transform="rotate(-90 332.24 515.50)" stroke="#141414" stroke-width="0.18">MDAC02_P01</text>
<text x="340.55" y="515.50" font-size="7.0" text-anchor="end" font-weight="normal" font-style="normal" fill="#141414" transform="rotate(-90 340.55 515.50)" stroke="#141414" stroke-width="0.18">MDAC08_P01</text>
<text x="348.86" y="515.50" font-size="7.0" text-anchor="end" font-weight="normal" font-style="normal" fill="#141414" transform="rotate(-90 348.86 515.50)" stroke="#141414" stroke-width="0.18">MDAC08_P02</text>
<text x="357.17" y="515.50" font-size="7.0" text-anchor="end" font-weight="normal" font-style="normal" fill="#141414" transform="rotate(-90 357.17 515.50)" stroke="#141414" stroke-width="0.18">MDAC10_P01</text>
<text x="365.48" y="515.50" font-size="7.0" text-anchor="end" font-weight="normal" font-style="normal" fill="#141414" transform="rotate(-90 365.48 515.50)" stroke="#141414" stroke-width="0.18">MDAC14_P01</text>
<text x="373.79" y="515.50" font-size="7.0" text-anchor="end" font-weight="normal" font-style="normal" fill="#141414" transform="rotate(-90 373.79 515.50)" stroke="#141414" stroke-width="0.18">MDAC14_P02</text>
<text x="382.10" y="515.50" font-size="7.0" text-anchor="end" font-weight="normal" font-style="normal" fill="#141414" transform="rotate(-90 382.10 515.50)" stroke="#141414" stroke-width="0.18">MDAC14_P03</text>
<text x="390.41" y="515.50" font-size="7.0" text-anchor="end" font-weight="normal" font-style="normal" fill="#141414" transform="rotate(-90 390.41 515.50)" stroke="#141414" stroke-width="0.18">MDAC17_P01</text>
<text x="398.72" y="515.50" font-size="7.0" text-anchor="end" font-weight="normal" font-style="normal" fill="#141414" transform="rotate(-90 398.72 515.50)" stroke="#141414" stroke-width="0.18">MDAC17_P02</text>
<text x="407.03" y="515.50" font-size="7.0" text-anchor="end" font-weight="normal" font-style="normal" fill="#141414" transform="rotate(-90 407.03 515.50)" stroke="#141414" stroke-width="0.18">MDAC18_P01</text>
<text x="415.34" y="515.50" font-size="7.0" text-anchor="end" font-weight="normal" font-style="normal" fill="#141414" transform="rotate(-90 415.34 515.50)" stroke="#141414" stroke-width="0.18">MDAC20_P01</text>
<rect x="221.70" y="563.20" width="8.80" height="8.80" fill="#c2c2c2" />
<text x="232.10" y="570.50" font-size="8" text-anchor="start" font-weight="normal" font-style="normal" fill="#141414" stroke="#141414" stroke-width="0.18">Silent</text>
<rect x="257.50" y="563.20" width="8.80" height="8.80" fill="#3d6bbd" />
<text x="268.00" y="570.50" font-size="8" text-anchor="start" font-weight="normal" font-style="normal" fill="#141414" stroke="#141414" stroke-width="0.18">Missense</text>
<rect x="304.50" y="563.20" width="8.80" height="8.80" fill="#0a0a0a" />
<text x="315.80" y="570.50" font-size="8" text-anchor="start" font-weight="normal" font-style="normal" fill="#141414" stroke="#141414" stroke-width="0.18">Nonsense</text>
<rect x="358.00" y="563.20" width="8.80" height="8.80" fill="#6b65a6" />
<text x="368.80" y="570.50" font-size="8" text-anchor="start" font-weight="normal" font-style="normal" fill="#141414" stroke="#141414" stroke-width="0.18">Frameshift</text>
<rect x="245.70" y="576.20" width="8.80" height="8.80" fill="#b8262c" />
<text x="256.80" y="583.50" font-size="8" text-anchor="start" font-weight="normal" font-style="normal" fill="#141414" stroke="#141414" stroke-width="0.18">Amplification</text>
<rect x="304.50" y="576.20" width="8.80" height="8.80" fill="#4fae5c" />
<text x="315.80" y="583.50" font-size="8" text-anchor="start" font-weight="normal" font-style="normal" fill="#141414" stroke="#141414" stroke-width="0.18">Deletion</text>
<rect x="348.70" y="576.20" width="8.80" height="8.80" fill="#f06c46" />
<text x="359.50" y="583.50" font-size="8" text-anchor="start" font-weight="normal" font-style="normal" fill="#141414" stroke="#141414" stroke-width="0.18">cn-LOH</text>
<rect x="452.50" y="299.40" width="11.20" height="62.00" fill="url(#cb)" />
<text x="468.00" y="314.00" font-size="9" text-anchor="start" font-weight="normal" font-style="normal" fill="#141414" stroke="#141414" stroke-width="0.18">60</text>
<text x="468.00" y="334.80" font-size="9" text-anchor="start" font-weight="normal" font-style="normal" fill="#141414" stroke="#141414" stroke-width="0.18">40</text>
<text x="468.00" y="355.10" font-size="9" text-anchor="start" font-weight="normal" font-style="normal" fill="#141414" stroke="#141414" stroke-width="0.18">20</text>
<text x="446.40" y="332.40" font-size="10.6" text-anchor="middle" font-weight="normal" font-style="normal" fill="#141414" transform="rotate(-90 446.40 332.40)" stroke="#141414" stroke-width="0.18">Percent of cases in TCGA</text>
</svg>
</body></html>
